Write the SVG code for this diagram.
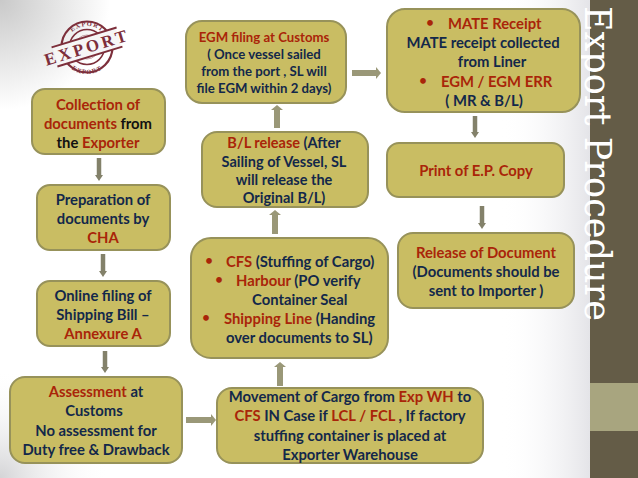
<svg xmlns="http://www.w3.org/2000/svg" width="638" height="478" viewBox="0 0 638 478">
<style>
text{font-family:Lato,"Open Sans","Liberation Sans",sans-serif;font-weight:700;font-size:14.8px;fill:#13284a}
.m{text-anchor:middle}
.r{fill:#a92509}
.b{text-anchor:middle;font-size:13px}
.s{font-size:13.2px}
.l{font-size:14.5px}
.k{fill:#111}
.box{fill:#c9bd63;stroke:#97925a;stroke-width:2}
.c{stroke:#83816a;stroke-width:4.5;fill:none;marker-end:url(#hd)}
.u{stroke:#9a9878;stroke-width:6;fill:none;marker-end:url(#hu)}
.st{fill:none;stroke:#7d2f3b}
.stt{font-family:"Liberation Serif",serif;fill:#7d2f3b;font-weight:700}
.title{font-family:"DejaVu Serif",serif;font-weight:400;font-size:38px;fill:#fff}
</style>
<defs>
<marker id="hd" markerUnits="userSpaceOnUse" markerWidth="10" markerHeight="10" refX="1" refY="5" orient="auto"><path d="M0 1L6 5L0 9Z" fill="#83816a"/></marker>
<marker id="hu" markerUnits="userSpaceOnUse" markerWidth="12" markerHeight="12" refX="1" refY="6" orient="auto"><path d="M0 0L5 6L0 12Z" fill="#9a9878"/></marker>
<radialGradient id="tl" gradientUnits="userSpaceOnUse" cx="0" cy="0" r="110"><stop offset="0" stop-color="#c9c9c9"/><stop offset="1" stop-color="#fff"/></radialGradient>
<radialGradient id="bl" gradientUnits="userSpaceOnUse" cx="0" cy="478" r="110"><stop offset="0" stop-color="#d4d4d6"/><stop offset="1" stop-color="#fff" stop-opacity="0"/></radialGradient>
<linearGradient id="rg" x1="0" x2="1" y1="0" y2="0"><stop offset="0" stop-color="#fff" stop-opacity="0"/><stop offset="1" stop-color="#e4e4e8"/></linearGradient>
<path id="arcT" d="M66 47A21 21 0 0 1 108 47"/>
<path id="arcB" d="M60 47A27 27 0 0 0 114 47"/>
</defs>
<rect width="638" height="478" fill="url(#tl)"/>
<rect width="638" height="478" fill="url(#bl)"/>
<rect x="500" width="90" height="478" fill="url(#rg)"/>
<rect x="590" width="48" height="478" fill="#645c47"/>
<rect x="590" y="383" width="48" height="48" fill="#a8a57f"/>
<text class="title" transform="translate(585 6) rotate(90)" textLength="315" lengthAdjust="spacingAndGlyphs">Export Procedure</text>

<g id="stamp">
<circle class="st" cx="87" cy="47" r="25.5" stroke-width="2.2"/>
<circle class="st" cx="87" cy="47" r="17.5" stroke-width="1.5"/>
<circle class="st" cx="87" cy="47" r="12" stroke-width=".7" opacity=".6"/>
<text class="stt" style="font-size:6.5px;letter-spacing:1px"><textPath href="#arcT" startOffset="50%" text-anchor="middle">EXPORT</textPath></text>
<text class="stt" style="font-size:6.5px;letter-spacing:1px"><textPath href="#arcB" startOffset="50%" text-anchor="middle">EXPORT</textPath></text>
<g transform="rotate(-17 87 47)">
<rect x="54" y="37" width="66" height="20" fill="#f6f6f6"/>
<path class="st" d="M53 37H121M53 57H121" stroke-width="2"/>
<text class="stt m" x="87" y="53" style="font-size:17px;letter-spacing:3px">EXPORT</text>
</g>
</g>

<g id="connectors">
<line class="c" x1="99" y1="158" x2="99" y2="176"/>
<line class="c" x1="103" y1="254" x2="103" y2="272"/>
<line class="c" x1="105" y1="351" x2="105" y2="368"/>
<line class="u" x1="186" y1="420" x2="212" y2="420"/>
<line class="u" x1="280" y1="386" x2="280" y2="366"/>
<line class="u" x1="275" y1="234" x2="275" y2="214"/>
<line class="u" x1="277" y1="128" x2="277" y2="109"/>
<line class="u" x1="352" y1="73" x2="377" y2="73"/>
<line class="c" x1="475" y1="116" x2="475" y2="133"/>
<line class="c" x1="482" y1="206" x2="482" y2="224"/>
</g>

<g id="collection">
<rect class="box" x="32" y="89" width="133" height="65" rx="13"/>
<text class="m r" x="98" y="110">Collection of</text>
<text class="m" x="98" y="129"><tspan class="r">documents</tspan> <tspan class="k">from</tspan></text>
<text class="m" x="98" y="148"><tspan class="k">the</tspan> <tspan class="r">Exporter</tspan></text>
</g>
<g id="preparation">
<rect class="box" x="37" y="185" width="133" height="65" rx="13"/>
<text class="m" x="103" y="205">Preparation of</text>
<text class="m" x="103" y="224">documents by</text>
<text class="m r" x="103" y="243">CHA</text>
</g>
<g id="online">
<rect class="box" x="37" y="281" width="133" height="65" rx="13"/>
<text class="m" x="103" y="301">Online filing of</text>
<text class="m" x="103" y="320">Shipping Bill –</text>
<text class="m r" x="103" y="339">Annexure A</text>
</g>
<g id="assessment">
<rect class="box" x="10" y="377" width="172" height="86" rx="15"/>
<text class="m" x="96" y="397"><tspan class="r">Assessment</tspan> at</text>
<text class="m" x="94" y="416">Customs</text>
<text class="m" x="96" y="436">No assessment for</text>
<text class="m" x="96" y="455">Duty free &amp; Drawback</text>
</g>
<g id="movement">
<rect class="box" x="217" y="388" width="266" height="75" rx="15"/>
<text class="m" x="350" y="402">Movement of Cargo from <tspan class="r">Exp WH</tspan> to</text>
<text class="m" x="350" y="421"><tspan class="r">CFS</tspan> IN Case if <tspan class="r">LCL / FCL</tspan> , If factory</text>
<text class="m" x="350" y="441">stuffing container is placed at</text>
<text class="m" x="350" y="460">Exporter Warehouse</text>
</g>
<g id="cfs">
<rect class="box" x="191" y="238" width="197" height="120" rx="20"/>
<text class="b r" x="209" y="265">•</text>
<text x="226" y="267"><tspan class="r">CFS</tspan> (Stuffing of Cargo)</text>
<text class="b r" x="219" y="284">•</text>
<text x="236" y="286"><tspan class="r">Harbour</tspan> (PO verify</text>
<text x="252" y="305">Container Seal</text>
<text class="b r" x="206" y="322">•</text>
<text x="224" y="324"><tspan class="r">Shipping Line</tspan> (Handing</text>
<text x="226" y="343">over documents to SL)</text>
</g>
<g id="bl-release">
<rect class="box" x="202" y="132" width="166" height="75" rx="15"/>
<text class="m l" x="284" y="148"><tspan class="r">B/L release</tspan> (After</text>
<text class="m l" x="284" y="167">Sailing of Vessel, SL</text>
<text class="m l" x="284" y="185">will release the</text>
<text class="m l" x="284" y="203">Original B/L)</text>
</g>
<g id="egm-filing">
<rect class="box" x="186" y="21" width="160" height="82" rx="16"/>
<text class="m r s" x="264" y="42">EGM filing at Customs</text>
<text class="m s" x="264" y="59">( Once vessel sailed</text>
<text class="m s" x="264" y="76">from the port , SL will</text>
<text class="m s" x="264" y="93">file EGM within 2 days)</text>
</g>
<g id="mate">
<rect class="box" x="387" y="9" width="193" height="103" rx="18"/>
<text class="b r" x="430" y="27">•</text>
<text class="r" x="448" y="29">MATE Receipt</text>
<text class="m" x="483" y="48">MATE receipt collected</text>
<text class="m" x="492" y="67">from Liner</text>
<text class="b r" x="423" y="85">•</text>
<text class="r" x="441" y="87">EGM / EGM ERR</text>
<text class="m" x="484" y="106">( MR &amp; B/L)</text>
</g>
<g id="print">
<rect class="box" x="387" y="143" width="177" height="54" rx="12"/>
<text class="m r" x="476" y="176">Print of E.P. Copy</text>
</g>
<g id="release">
<rect class="box" x="398" y="233" width="176" height="75" rx="15"/>
<text class="m r" x="486" y="258">Release of Document</text>
<text class="m" x="486" y="277">(Documents should be</text>
<text class="m" x="486" y="296">sent to Importer )</text>
</g>
</svg>
